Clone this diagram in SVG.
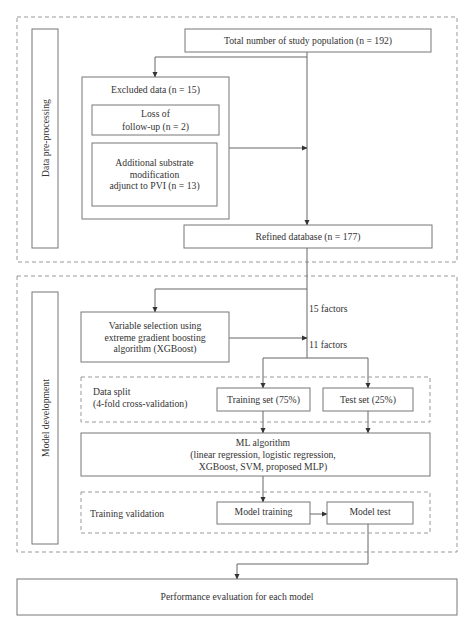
<svg xmlns="http://www.w3.org/2000/svg" width="474" height="632" viewBox="0 0 474 632">
<defs>
<marker id="ah" markerWidth="6" markerHeight="6" refX="5" refY="3" orient="auto" markerUnits="userSpaceOnUse">
<path d="M0,0.5 L5.5,3 L0,5.5 Z" fill="#333"/>
</marker>
</defs>
<style>
.box{fill:#fff;stroke:#777;stroke-width:1}
.dash{fill:none;stroke:#999;stroke-width:1;stroke-dasharray:4,3}
.ln{fill:none;stroke:#666;stroke-width:1}
text{font-family:"Liberation Serif","Times New Roman",serif;font-size:9.7px;fill:#333}
.c{text-anchor:middle}
</style>
<rect width="474" height="632" fill="#fff"/>
<g id="section1">
<rect class="dash" x="17" y="17" width="440" height="245"/>
<rect class="box" x="32" y="29" width="26" height="219"/>
<text class="c" transform="translate(48.5,138) rotate(-90)">Data pre-processing</text>
</g>
<g id="section2">
<rect class="dash" x="17" y="276" width="440" height="276"/>
<rect class="box" x="32" y="292" width="26" height="252"/>
<text class="c" transform="translate(48.5,418) rotate(-90)">Model development</text>
</g>
<g id="connectors">
<path class="ln" d="M307,52 V225" marker-end="url(#ah)"/>
<path class="ln" d="M307,57 H155 V77" marker-end="url(#ah)"/>
<path class="ln" d="M229,148 H307" marker-end="url(#ah)"/>
<path class="ln" d="M307,248 V358"/>
<path class="ln" d="M307,289 H155 V312" marker-end="url(#ah)"/>
<path class="ln" d="M229,338 H307" marker-end="url(#ah)"/>
<path class="ln" d="M263,358 H368 V388" marker-end="url(#ah)"/>
<path class="ln" d="M263,358 V388" marker-end="url(#ah)"/>
<path class="ln" d="M263,411 V433" marker-end="url(#ah)"/>
<path class="ln" d="M368,411 V433" marker-end="url(#ah)"/>
<path class="ln" d="M263,476 V502" marker-end="url(#ah)"/>
<path class="ln" d="M310,514 H327" marker-end="url(#ah)"/>
<path class="ln" d="M368,524 V564 H237 V579" marker-end="url(#ah)"/>
<text x="309" y="311.5">15 factors</text>
<text x="309" y="348">11 factors</text>
</g>
<g id="total">
<rect class="box" x="185" y="29" width="246" height="23"/>
<text class="c" x="308" y="43.5">Total number of study population (n = 192)</text>
</g>
<g id="excluded">
<rect class="box" x="82" y="77" width="147" height="142"/>
<text class="c" x="155.5" y="92.5">Excluded data (n = 15)</text>
</g>
<g id="loss">
<rect class="box" x="92" y="105" width="127" height="30"/>
<text class="c" x="155.5" y="117">Loss of</text>
<text class="c" x="155.5" y="130">follow-up (n = 2)</text>
</g>
<g id="additional">
<rect class="box" x="92" y="143" width="125" height="63"/>
<text class="c" x="154.5" y="166">Additional substrate</text>
<text class="c" x="154.5" y="177.5">modification</text>
<text class="c" x="154.5" y="188.5">adjunct to PVI (n = 13)</text>
</g>
<g id="refined">
<rect class="box" x="184" y="225" width="248" height="23"/>
<text class="c" x="308" y="240">Refined database (n = 177)</text>
</g>
<g id="variable">
<rect class="box" x="81" y="312" width="148" height="50"/>
<text class="c" x="155" y="329">Variable selection using</text>
<text class="c" x="155" y="340.5">extreme gradient boosting</text>
<text class="c" x="155" y="352">algorithm (XGBoost)</text>
</g>
<g id="datasplit">
<rect class="dash" x="81" y="377" width="349" height="45"/>
<text x="93" y="395">Data split</text>
<text x="93" y="407">(4-fold cross-validation)</text>
</g>
<g id="training">
<rect class="box" x="217" y="388" width="93" height="23"/>
<text class="c" x="263.5" y="402.5">Training set (75%)</text>
</g>
<g id="testset">
<rect class="box" x="323" y="388" width="90" height="23"/>
<text class="c" x="368" y="402.5">Test set (25%)</text>
</g>
<g id="ml">
<rect class="box" x="81" y="433" width="349" height="43"/>
<text class="c" x="263" y="446">ML algorithm</text>
<text class="c" x="263" y="458">(linear regression, logistic regression,</text>
<text class="c" x="263" y="469.5">XGBoost, SVM, proposed MLP)</text>
</g>
<g id="trainval">
<rect class="dash" x="81" y="492" width="349" height="41"/>
<text x="90" y="517">Training validation</text>
</g>
<g id="modeltraining">
<rect class="box" x="217" y="502" width="93" height="22"/>
<text class="c" x="263.5" y="515">Model training</text>
</g>
<g id="modeltest">
<rect class="box" x="327" y="502" width="86" height="22"/>
<text class="c" x="370" y="515">Model test</text>
</g>
<g id="performance">
<rect class="box" x="17" y="579" width="440" height="36"/>
<text class="c" x="237" y="600">Performance evaluation for each model</text>
</g>
</svg>
